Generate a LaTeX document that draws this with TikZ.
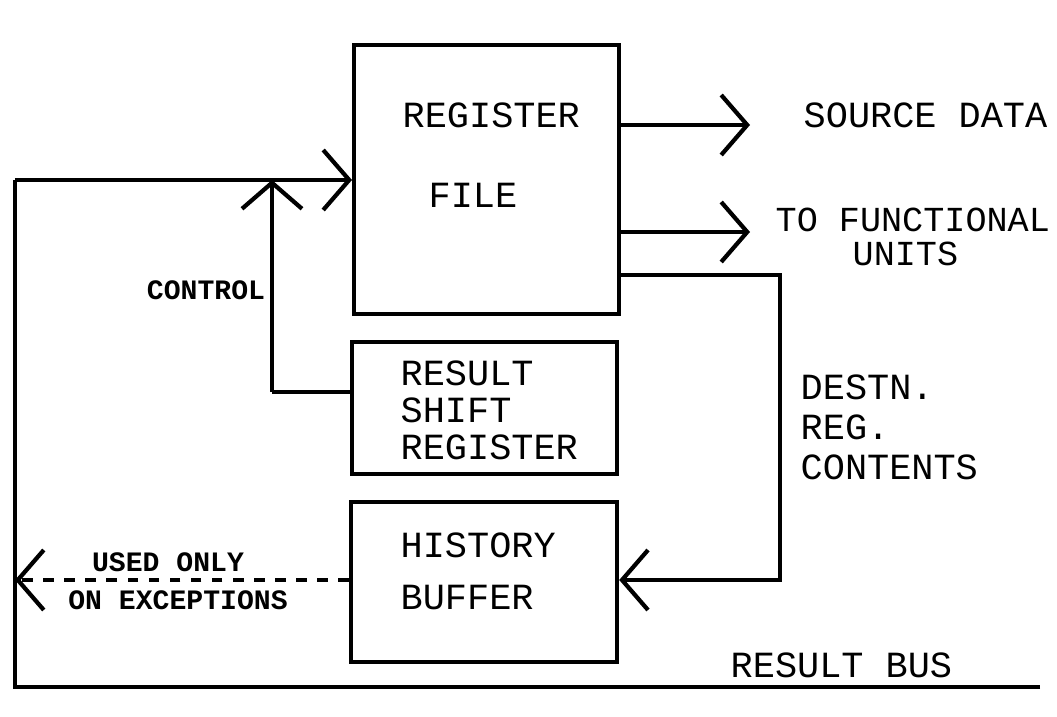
\documentclass[tikz,border=0pt]{standalone}
\usepackage{fontspec}
\setmainfont{Liberation Mono}
\usetikzlibrary{arrows.meta}
\begin{document}
\begin{tikzpicture}[x=1cm,y=-1cm,
  box/.style={draw, line width=1.2pt, inner sep=0},
  ln/.style={line width=1.2pt},
  tip/.style={-{Straight Barb[length=2.6mm,width=6mm,line width=1.2pt]}},
  txt/.style={font=\fontsize{10.5}{12}\selectfont, anchor=west, inner sep=0},
  sm/.style={font=\fontsize{8}{9}\selectfont\bfseries, inner sep=0}]
\useasboundingbox (0,0) rectangle (10.57,7.17);
% boxes
\node[box, minimum width=2.65cm, minimum height=2.69cm, anchor=north west] (rf) at (3.52,0.43) {};
\node[box, minimum width=2.65cm, minimum height=1.32cm, anchor=north west] (sr) at (3.50,3.40) {};
\node[box, minimum width=2.66cm, minimum height=1.60cm, anchor=north west] (hb) at (3.49,5.00) {};
\node[txt] (t1) at (4.02,1.15) {REGISTER};
\node[txt] (t2) at (4.28,1.95) {FILE};
\node[txt, align=left, font=\fontsize{10.5}{10.5}\selectfont] (t3) at (4.00,4.10) {RESULT\\SHIFT\\REGISTER};
\node[txt] (t4) at (4.00,5.45) {HISTORY};
\node[txt] (t5) at (4.00,5.98) {BUFFER};
% coordinates
\coordinate (busL) at (0.15,6.87);
\coordinate (busR) at (10.40,6.87);
\coordinate (topL) at (0.15,1.80);
\coordinate (ctl) at (2.72,3.92);
\coordinate (ctlT) at (2.72,1.80);
\coordinate (s1) at (7.50,1.25);
\coordinate (s2) at (7.50,2.32);
\coordinate (d1) at (7.80,2.75);
\coordinate (d2) at (7.80,5.80);
\coordinate (exL) at (0.15,5.80);
% result bus
\draw[ln] (busR) -- (busL) -- (topL);
\draw[ln, tip] (topL) -- (rf.west |- topL);
% control
\draw[ln] (sr.west |- ctl) -- (ctl);
\draw[ln, tip] (ctl) -- (ctlT);
\node[sm] (c) at (2.06,2.90) {CONTROL};
% outputs
\draw[ln, tip] (rf.east |- s1) -- (s1);
\draw[ln, tip] (rf.east |- s2) -- (s2);
\node[txt] (o1) at (8.03,1.15) {SOURCE DATA};
\node[txt, font=\fontsize{10}{12}\selectfont] (o2) at (7.75,2.20) {TO FUNCTIONAL};
\node[txt, font=\fontsize{10}{12}\selectfont] (o3) at (8.52,2.54) {UNITS};
% destination
\draw[ln, tip] (rf.east |- d1) -- (d1) -- (d2) -- (hb.east |- d2);
\node[txt] (d3) at (8.00,3.87) {DESTN.};
\node[txt] (d4) at (8.00,4.27) {REG.};
\node[txt] (d5) at (8.00,4.67) {CONTENTS};
% exceptions
\draw[ln, dashed, tip] (hb.west |- exL) -- (exL);
\node[sm] (e1) at (1.68,5.62) {USED ONLY};
\node[sm] (e2) at (1.78,6.00) {ON EXCEPTIONS};
\node[txt] (rb) at (7.30,6.65) {RESULT BUS};
\end{tikzpicture}
\end{document}
